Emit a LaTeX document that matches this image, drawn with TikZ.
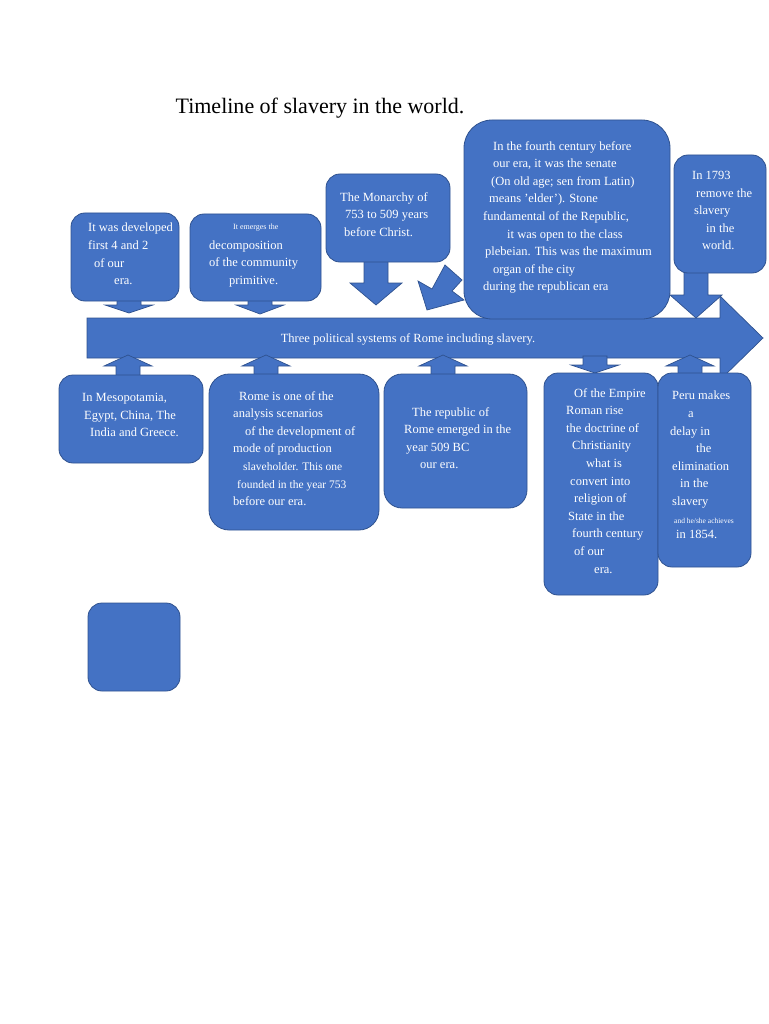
\documentclass[tikz,border=0pt]{standalone}
\usepackage{fontspec}
\setmainfont{Liberation Serif}
\begin{document}
\begin{tikzpicture}[x=1pt,y=-1pt,
  box/.style={draw=boxline,fill=boxfill,rounded corners=14pt,line width=0.8pt},
  arr/.style={draw=boxline,fill=boxfill,line width=0.7pt},
  txt/.style={text=white,align=left,anchor=north west,inner sep=0pt,font=\fontsize{12.5}{17.6}\selectfont}]
\definecolor{boxfill}{HTML}{4472C4}
\definecolor{boxline}{HTML}{2F528F}
\useasboundingbox (0,0) rectangle (768,1024);
\node[anchor=center,font=\fontsize{22}{26}\selectfont] (title) at (320,108) {Timeline of slavery in the world.};
% main arrow
\draw[arr] (87,318) -- (720,318) -- (720,296) -- (763,338) -- (720,380) -- (720,358) -- (87,358) -- cycle;
\node[text=white,font=\fontsize{12.5}{15}\selectfont] (bar) at (408,339) {Three political systems of Rome including slavery.};
% small arrows from top
\draw[arr] (117,297) -- (141,297) -- (141,305) -- (153,305) -- (129,313) -- (105,305) -- (117,305) -- cycle;
\draw[arr] (248,297) -- (272,297) -- (272,305) -- (284,305) -- (260,314) -- (236,305) -- (248,305) -- cycle;
\draw[arr] (364,260) -- (388,260) -- (388,283) -- (402,283) -- (376,305) -- (350,283) -- (364,283) -- cycle;
\draw[arr] (445,265) -- (462,280) -- (452,291) -- (464,300) -- (427,310) -- (418,281) -- (432,289) -- cycle;
\draw[arr] (684,271) -- (708,271) -- (708,295) -- (722,295) -- (696,318) -- (670,295) -- (684,295) -- cycle;
% up arrows to bottom boxes
\foreach \c in {128,266,443,690}{
  \draw[arr] (\c-12,377) -- (\c+12,377) -- (\c+12,366) -- (\c+24,366) -- (\c,355) -- (\c-24,366) -- (\c-12,366) -- cycle;}
\draw[arr] (583,356) -- (607,356) -- (607,365) -- (619,365) -- (595,373) -- (571,365) -- (583,365) -- cycle;
% top boxes
\draw[box] (71,213) rectangle (179,301);
\draw[box] (190,214) rectangle (321,301);
\draw[box] (326,174) rectangle (450,262);
\draw[box,rounded corners=28pt] (464,120) rectangle (670,319);
\draw[box] (674,155) rectangle (766,273);
% bottom boxes
\draw[box] (59,375) rectangle (203,463);
\draw[box,rounded corners=20pt] (209,374) rectangle (379,530);
\draw[box,rounded corners=18pt] (384,374) rectangle (527,508);
\draw[box] (544,373) rectangle (658,595);
\draw[box] (658,373) rectangle (751,567);
\draw[box] (88,603) rectangle (180,691);
% texts
\node[txt] (ta) at (80,223) {\hspace*{8pt}It was developed\\\hspace*{8pt}first 4 and 2\\\hspace*{14pt}of our\\\hspace*{34pt}era.};
\node[txt] (tb) at (209,224) {\hspace*{24pt}{\fontsize{8}{10}\selectfont It emerges the}\\[2pt]decomposition\\ of the community\\\hspace*{20pt}primitive.};
\node[txt] (tc) at (340,192) {The Monarchy of\\\hspace*{5pt}753 to 509 years\\\hspace*{4pt}before Christ.};
\node[txt] (td) at (483,141) {\hspace*{10pt}In the fourth century before\\\hspace*{10pt}our era, it was the senate\\\hspace*{8pt}(On old age; sen from Latin)\\\hspace*{6pt}means 'elder'). Stone\\fundamental of the Republic,\\\hspace*{24pt}it was open to the class\\\hspace*{2pt}plebeian. This was the maximum\\\hspace*{10pt}organ of the city\\during the republican era};
\node[txt] (te) at (692,171) {In 1793\\\hspace*{4pt}remove the\\\hspace*{2pt}slavery\\\hspace*{14pt}in the\\\hspace*{10pt}world.};
\node[txt] (tf) at (82,393) {In Mesopotamia,\\\hspace*{2pt}Egypt, China, The\\\hspace*{8pt}India and Greece.};
\node[txt] (tg) at (233,391) {\hspace*{6pt}Rome is one of the\\analysis scenarios\\\hspace*{12pt}of the development of\\mode of production\\\hspace*{10pt}{\fontsize{11.5}{17.6}\selectfont slaveholder. This one}\\\hspace*{4pt}{\fontsize{11.5}{17.6}\selectfont founded in the year 753}\\before our era.};
\node[txt] (th) at (404,407) {\hspace*{8pt}The republic of\\Rome emerged in the\\\hspace*{2pt}year 509 BC\\\hspace*{16pt}our era.};
\node[txt] (ti) at (566,388) {\hspace*{8pt}Of the Empire\\Roman rise\\ the doctrine of\\\hspace*{6pt}Christianity\\\hspace*{20pt}what is\\\hspace*{4pt}convert into\\\hspace*{8pt}religion of\\\hspace*{2pt}State in the\\\hspace*{6pt}fourth century\\\hspace*{8pt}of our\\\hspace*{28pt}era.};
\node[txt] (tj) at (670,391) {\hspace*{2pt}Peru makes\\\hspace*{18pt}a\\delay in\\\hspace*{26pt}the\\\hspace*{2pt}elimination\\\hspace*{10pt}in the\\\hspace*{2pt}slavery\\\hspace*{4pt}{\fontsize{7.5}{10}\selectfont and he/she achieves}\\[-2pt]\hspace*{6pt}in 1854.};
\end{tikzpicture}
\end{document}
